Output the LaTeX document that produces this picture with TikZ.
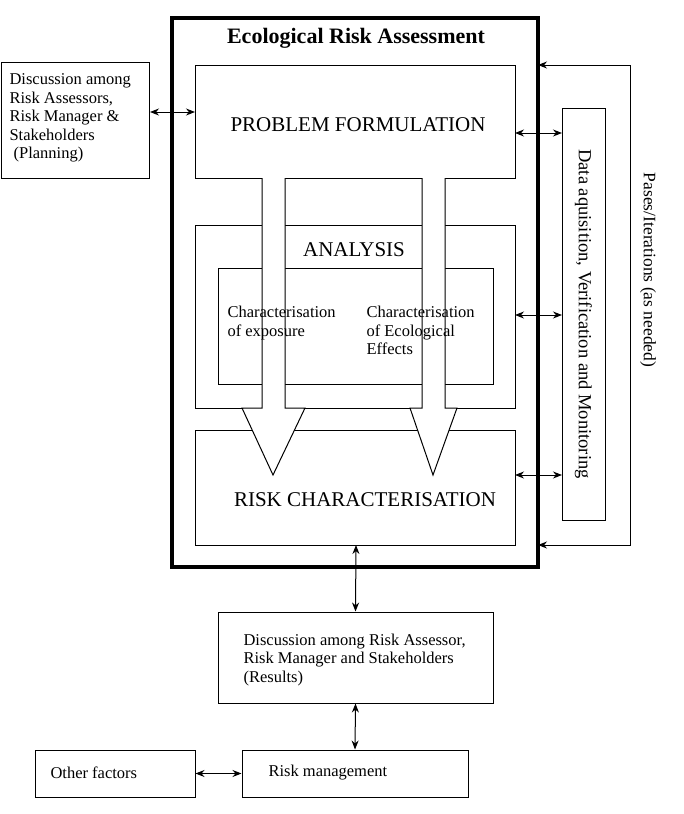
\documentclass[tikz,border=0pt]{standalone}
\usepackage{fontspec}
\setmainfont{Liberation Serif}
\usetikzlibrary{arrows.meta}
\begin{document}
\begin{tikzpicture}[x=1pt,y=-1pt,
  box/.style={draw,line width=1pt},
  big/.style={font=\fontsize{21}{24}\selectfont},
  sm/.style={font=\fontsize{16.5}{18.5}\selectfont,align=left},
  dbl/.style={{Stealth[length=9pt,width=7pt]}-{Stealth[length=9pt,width=7pt]},line width=1pt},
  one/.style={-{Stealth[length=9pt,width=7pt]},line width=1pt}]
\useasboundingbox (0,0) rectangle (684,814);
\draw[line width=3.5pt] (172,18) rectangle (538,567);
\node[font=\fontsize{22}{25}\selectfont\bfseries] (title) at (356,38) {Ecological Risk Assessment};
\node[box,minimum width=320pt,minimum height=113pt] (pf) at (355,121.5) {};
\node[big] (pft) at (358,125) {PROBLEM FORMULATION};
\node[box,minimum width=148pt,minimum height=116pt] (left) at (75,120) {};
\node[sm,anchor=west] (lt) at (6,118) {Discussion among\\Risk Assessors,\\Risk Manager \&\\Stakeholders\\\ (Planning)};
\draw[box] (195,225) rectangle (515,408);
\draw[box] (218,268) rectangle (493,384);
\node[big,fill=white,inner sep=1pt] (anal) at (354,250) {ANALYSIS};
\node[box,minimum width=320pt,minimum height=115pt] (rc) at (355,487.5) {};
\node[big] (rct) at (365,500) {RISK CHARACTERISATION};
% hollow arrows
\fill[white] (263,177) rectangle (284,409);
\fill[white] (423,177) rectangle (444,409);
\draw[line width=1pt,fill=white] (262,178) -- (262,408) -- (242,408) -- (273,475) -- (305,408) -- (285,408) -- (285,178);
\draw[line width=1pt,fill=white] (422,178) -- (422,408) -- (410,408) -- (433,475) -- (457,408) -- (445,408) -- (445,178);
\node[sm,anchor=north west] (ce) at (224,303) {Characterisation\\of exposure};
\node[sm,anchor=north west] (cee) at (363,303) {Characterisation\\of Ecological\\Effects};
\node[box,minimum width=43pt,minimum height=412pt] (data) at (583.5,314) {};
\node[rotate=-90,font=\fontsize{18.5}{21}\selectfont] (dt) at (583.5,314) {Data aquisition, Verification and Monitoring};
\draw[dbl] (150,112) -- (195,112);
\draw[dbl] (515,133) -- (562,133);
\draw[dbl] (515,315) -- (562,315);
\draw[dbl] (515,475) -- (562,475);
\coordinate (it1) at (630,65);
\coordinate (it2) at (630,545);
\draw[one] (it1) -- (538,65);
\draw[one] (it1) -- (it2) -- (538,545);
\node[rotate=-90,font=\fontsize{17.5}{20}\selectfont] (pt) at (648,270) {Pases/Iterations (as needed)};
\node[box,minimum width=275pt,minimum height=91pt] (res) at (355.5,657.5) {};
\node[sm,anchor=west] (rt) at (240,660) {Discussion among Risk Assessor,\\Risk Manager and Stakeholders\\(Results)};
\draw[dbl] (356,545) -- (res.north);
\node[box,minimum width=226pt,minimum height=47pt] (rm) at (355,773.5) {};
\node[sm,anchor=west] (rmt) at (265,773) {Risk management};
\draw[dbl] (res.south) -- (rm.north);
\node[box,minimum width=160pt,minimum height=47pt] (of) at (115,773.5) {};
\node[sm,anchor=west] (oft) at (47,773) {Other factors};
\draw[dbl] (of.east) -- (rm.west);
\end{tikzpicture}
\end{document}
